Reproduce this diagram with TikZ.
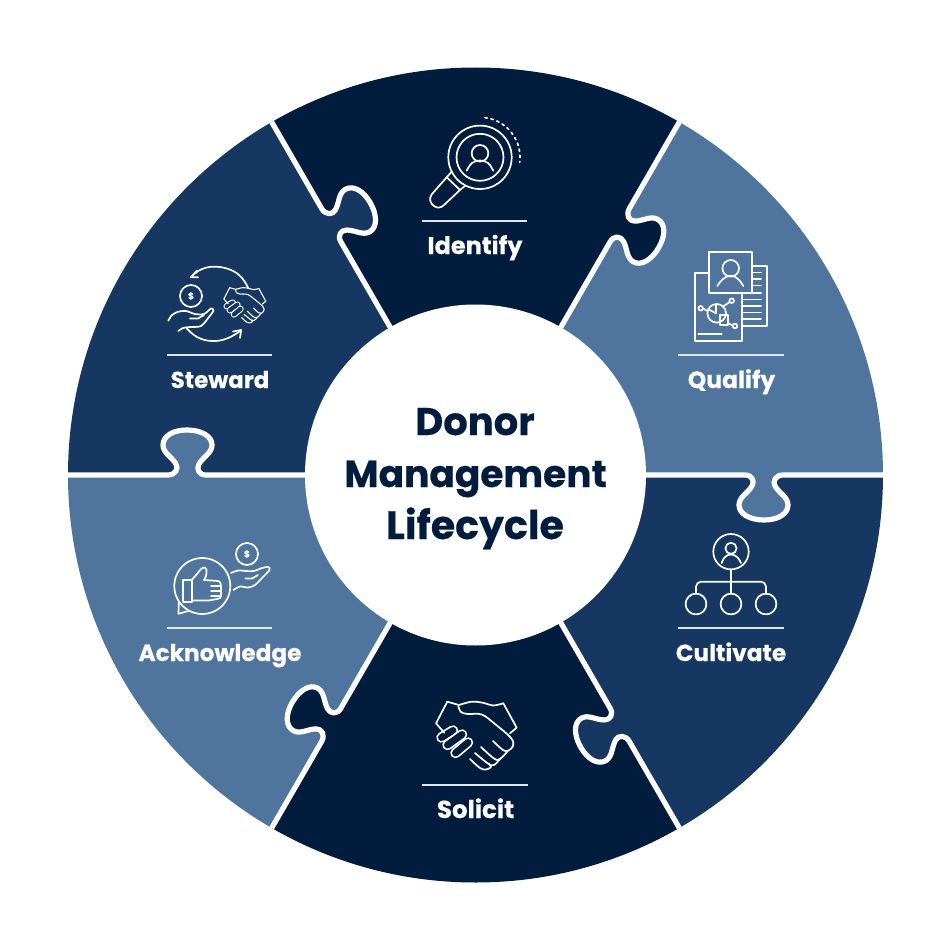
\documentclass[tikz,border=0pt]{standalone}
\usepackage{fontspec}
\setmainfont{Poppins}[BoldFeatures={FakeBold=0.35}]
\definecolor{cdark}{HTML}{021C3E}
\definecolor{cmid}{HTML}{163761}
\definecolor{clight}{HTML}{4F749E}
\definecolor{crule}{HTML}{DFE8F2}
\newcommand\fsz[1]{\fontsize{#1}{#1}\selectfont}
\tikzset{
 icon/.style={draw=white,line width=1.7pt,line cap=round,line join=round,fill=none},
 divider/.style={draw=crule,line width=1.6pt},
 seglabel/.style={text=white,font=\bfseries\fsz{#1},inner sep=0pt,anchor=base},
 seglabel/.default=23,
 centerlabel/.style={text=cdark,font=\bfseries\fsz{#1},inner sep=0pt,anchor=base},
 seam/.style={draw=white,line width=5.2pt,line cap=round,line join=round}
}
\newcommand\fwd[1]{(b#1-a) -- (b#1-b) .. controls (b#1-c) and (b#1-d) .. (b#1-e) .. controls (b#1-f) and (b#1-g) .. (b#1-h) .. controls (b#1-i) and (b#1-j) .. (b#1-k) .. controls (b#1-l) and (b#1-m) .. (b#1-n) .. controls (b#1-o) and (b#1-p) .. (b#1-q) .. controls (b#1-r) and (b#1-s) .. (b#1-t) -- (b#1-z)}
\newcommand\rev[1]{(b#1-z) -- (b#1-t) .. controls (b#1-s) and (b#1-r) .. (b#1-q) .. controls (b#1-p) and (b#1-o) .. (b#1-n) .. controls (b#1-m) and (b#1-l) .. (b#1-k) .. controls (b#1-j) and (b#1-i) .. (b#1-h) .. controls (b#1-g) and (b#1-f) .. (b#1-e) .. controls (b#1-d) and (b#1-c) .. (b#1-b) -- (b#1-a)}
% handshake in the pixel frame of the Solicit icon: #1 background, #2 width factor
\newcommand\hshake[2]{%
 \foreach \xa/\ya/\xb/\yb in {441.5/737.5/453/730.5,447.5/745/462/734.5,455.5/753/468/742.5}{
  \draw[line cap=round,draw=white,line width=#2*10.5pt] (\xa,\ya) -- (\xb,\yb);
  \draw[line cap=round,draw=#1,line width=#2*7pt] (\xa,\ya) -- (\xb,\yb);
 }
 \begin{scope}[icon,line width=#2*1.7pt]
 \draw (447.3,701.7) -- (436,723.3) -- (444.3,732.7);
 \draw (447.3,701.7) -- (459,705);
 \draw plot[smooth,tension=.6] coordinates {(459,705) (472,701.7) (484,703) (493,705.5) (503.3,703.3)};
 \draw (503.3,703.3) -- (516.7,727.7) -- (510,733.3);
 \draw plot[smooth,tension=.6] coordinates {(458.3,706) (461,712) (468,714) (481.7,714.5) (495,724) (511,738) (513,746) (508,750.7) (503,750) (493,741)};
 \draw plot[smooth,tension=.6] coordinates {(508,750.7) (500,759) (494,758.5) (481,747)};
 \draw plot[smooth,tension=.6] coordinates {(500,759) (494,765) (488,763.5) (475,753)};
 \draw plot[smooth,tension=.6] coordinates {(489,764) (491,767) (486,769.5) (480,768) (470,759)};
 \end{scope}}
\begin{document}
\begin{tikzpicture}[x=1pt,y=-1pt]
\useasboundingbox (0,0) rectangle (951,950);
\foreach \k in {0,...,5}{
 \begin{scope}[rotate around={-60*\k:(475.5,475)}]
 \coordinate (b\k-a) at (40,475);
 \coordinate (b\k-b) at (168,475);
 \coordinate (b\k-c) at (175,475);
 \coordinate (b\k-d) at (179,469);
 \coordinate (b\k-e) at (176,464);
 \coordinate (b\k-f) at (172,457);
 \coordinate (b\k-g) at (163,453);
 \coordinate (b\k-h) at (163,445);
 \coordinate (b\k-i) at (163,436);
 \coordinate (b\k-j) at (173,430);
 \coordinate (b\k-k) at (187,430);
 \coordinate (b\k-l) at (201,430);
 \coordinate (b\k-m) at (212,436);
 \coordinate (b\k-n) at (212,445);
 \coordinate (b\k-o) at (212,453);
 \coordinate (b\k-p) at (203,457);
 \coordinate (b\k-q) at (199,464);
 \coordinate (b\k-r) at (196,469);
 \coordinate (b\k-s) at (199,475);
 \coordinate (b\k-t) at (206,475);
 \coordinate (b\k-z) at (360,475);
 \end{scope}
 \begin{scope}[rotate around={-60*\k-30:(475.5,475)}]
 \coordinate (far\k) at (-300,475);
 \end{scope}
}
\begin{scope}
 \clip (475.5,475) circle[radius=407.5];
 \foreach \k/\n/\c in {0/1/cmid,1/2/cdark,2/3/clight,3/4/cmid,4/5/cdark,5/0/clight}{
  \fill[\c] \fwd{\k} -- \rev{\n} -- (far\k) -- cycle;
 }
 \foreach \k in {0,...,5}{ \draw[seam] \fwd{\k}; }
\end{scope}
\fill[white] (475.5,475) circle[radius=170.5];

% centre title
\node[centerlabel=38.5] (t1) at (475,435) {Donor};
\node[centerlabel=37.5] (t2) at (475.5,487) {Management};
\node[centerlabel=39.5] (t3) at (475,539) {Lifecycle};

% dividers
\draw[divider] (422,221) -- (527,221);
\draw[divider] (678,355) -- (784,355);
\draw[divider] (678,628) -- (784,628);
\draw[divider] (422,785) -- (528,785);
\draw[divider] (167,628) -- (272,628);
\draw[divider] (167,355) -- (272,355);

% labels
\node[seglabel=24] (identify) at (475,254) {Identify};
\node[seglabel=23.5] (qualify) at (731.5,388) {Qualify};
\node[seglabel=23.2] (cultivate) at (731,661) {Cultivate};
\node[seglabel=24.5] (solicit) at (475.5,818) {Solicit};
\node[seglabel=23.2] (acknowledge) at (220,661) {Acknowledge};
\node[seglabel=23] (steward) at (220,388) {Steward};

% Identify icon
\begin{scope}[icon]
 \draw (480,157.3) circle[radius=31.7];
 \draw (480,157.3) circle[radius=23.5];
 \draw (480,153.3) circle[radius=8.3];
 \draw plot[smooth,tension=.7] coordinates {(466.7,170.7) (472,163) (480,160.5) (488,163) (493.3,170.7)};
 \draw (451.7,171.7) -- (446.7,177.3) -- (460,190) -- (465,186);
 \draw (446.7,177.3) -- (432,194) .. controls (428,199) and (431,204) .. (434,206) .. controls (437,208.5) and (441,208) .. (444,205) -- (460,190);
 \draw[dash pattern=on 2.4pt off 3.8pt,domain=-83:7,samples=24] plot ({480+40*cos(\x)},{157.3+40*sin(\x)});
\end{scope}

% Qualify icon
\begin{scope}[icon]
 \draw (752.7,266) -- (767.3,266) -- (767.3,326) -- (741.7,326);
 \foreach \yy in {272.5,279,285.5}{\draw (752.7,\yy) -- (761,\yy);}
 \foreach \yy in {293,299.5,306,312.5,319}{\draw (741.7,\yy) -- (761,\yy);}
 \draw (708.3,273.3) -- (695,273.3) -- (695,340.7) -- (741.7,340.7) -- (741.7,294);
 \draw (709.3,251.7) rectangle (752.3,293.3);
 \draw (730.7,268.3) circle[radius=8.3];
 \draw plot[smooth,tension=.7] coordinates {(717.3,286) (723,279) (730.7,275.7) (738,279) (743.3,286)};
 \draw (716.7,313.3) circle[radius=9.3];
 \draw (720,315) rectangle (728,325);
 \draw (703,308.5) -- (707.5,311);
 \draw (723,306.5) -- (729.7,302);
 \draw (728,323) -- (732.6,325.5);
 \draw (700.7,308.3) circle[radius=2.3];
 \draw (731.7,300.7) circle[radius=2.3];
 \draw (735,326) circle[radius=2.3];
 \draw (716,305) -- (716,313.3) -- (708,309);
 \draw (698.3,334) -- (721.7,334);
\end{scope}

% Cultivate icon
\begin{scope}[icon]
 \draw (731,551.7) circle[radius=17.7];
 \draw (731,548.3) circle[radius=5.6];
 \draw plot[smooth,tension=.7] coordinates {(721.7,563) (725,557) (731,554.5) (737,557) (741,563)};
 \draw (731,569.4) -- (731,593.7);
 \draw[rounded corners=5pt] (696,593.7) -- (696,581.7) -- (766,581.7) -- (766,593.7);
 \foreach \cx in {696,731,766}{\draw (\cx,604) circle[radius=10.4];}
\end{scope}

% Solicit icon
\hshake{cdark}{1}

% Acknowledge icon
\begin{scope}[icon]
 \draw (247,554) circle[radius=11];
 \draw plot[domain=-215:150,samples=60] ({202.3+28*cos(\x)},{586+28*sin(\x)});
 \draw (178.8,601.5) -- (178.5,613.8) -- (189,610.8);
 \draw (182.7,580) rectangle (191.7,601.7);
 \draw plot[smooth,tension=.5] coordinates {(191.7,580) (197,574) (201,569) (204.5,567.5) (206.5,570) (206,576) (204,580)};
 \draw (204,580) -- (218,581) .. controls (221,581.5) and (221,585) .. (221,588) -- (221,596) .. controls (221,598) and (219,599) .. (217,599) -- (209,600.5) -- (191.7,600.5);
 \foreach \yy in {586,591,596}{\draw (211,\yy) -- (221,\yy);}
 \draw plot[smooth,tension=.5] coordinates {(231,573) (238,570.5) (246,571) (254,571) (262,568) (268,567) (269.5,570) (262,578) (255,585) (248,587.5) (240,586.5) (233.5,590)};
 \draw (245.5,578.5) -- (252,578.5) -- (258,575);
\end{scope}
\node[text=white,font=\bfseries\fontsize{9}{9}\selectfont,inner sep=0pt] (coinA) at (247,554) {\$};

% Steward icon
\begin{scope}[icon]
 \draw plot[smooth,tension=.7] coordinates {(190.7,277.3) (201,269.5) (215,266.7) (231,270) (242,278) (248.3,288.3)};
 \draw (197,270.5) -- (190.7,277.3) -- (198,277.3);
 \draw plot[smooth,tension=.7] coordinates {(186.7,328.3) (197,337) (211.7,341) (227,338.5) (240.7,330.7)};
 \draw (233,331.5) -- (241.2,330) -- (240,338);
 \draw (191,296) circle[radius=11];
 \draw plot[smooth,tension=.5] coordinates {(168.3,320.7) (172,315) (178.3,311.7) (186,311) (195,314) (204,314) (211,308.5) (213.5,310.5) (209,317) (201,326) (190,327) (183,328) (178.3,331)};
 \draw (190,318.5) -- (198,318.5) -- (204,315);
\end{scope}
\begin{scope}[shift={(-2.88,-77.2)},scale=0.52]
 \hshake{cmid}{0.62}
\end{scope}
\node[text=white,font=\bfseries\fontsize{9}{9}\selectfont,inner sep=0pt] (coinS) at (191,296) {\$};
\end{tikzpicture}
\end{document}
